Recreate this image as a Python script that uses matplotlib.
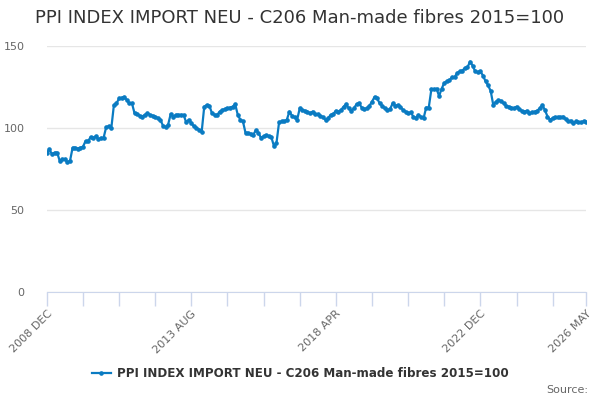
import numpy as np
import pandas as pd
import matplotlib
matplotlib.use("Agg")
import matplotlib.pyplot as plt

# monthly index values, 2008 DEC .. 2026 MAY
months = pd.date_range("2008-12-01", "2026-05-01", freq="MS")
labels = [d.strftime("%Y %b").upper() for d in months]

values = [
    85, 87, 84, 85, 85, 80, 81, 81, 79, 80,
    88, 88, 87.5, 88, 88.5, 92, 92, 94.5, 94, 95,
    93, 94, 94, 100.5, 101, 100, 114, 115, 118, 118.5,
    119, 117, 115, 115, 109, 108.5, 107.5, 107, 108, 109,
    108, 107.5, 107, 106, 105, 101.5, 100.5, 102, 108.5, 107,
    108, 108, 108, 108, 103.5, 105, 103, 101, 100, 99,
    97.5, 113, 114, 113.5, 109, 108, 108, 110, 111, 111.5,
    112, 112.5, 113, 114.5, 108, 105, 104, 97, 97, 96.5,
    96, 98.5, 97, 94, 95, 95.5, 95, 94.5, 89, 91,
    103.5, 104, 104, 105, 110, 107.5, 106.5, 105, 112, 111,
    110.5, 110, 109, 110, 108.5, 108.5, 107.5, 106.5, 105, 106,
    108, 108.5, 110.5, 110, 111, 113, 114.5, 112, 110.5, 112,
    114.5, 115, 112.5, 111.5, 112, 113.5, 116, 119, 118, 115,
    113.5, 112, 111, 111.5, 115, 113.5, 114, 113, 111, 110,
    109, 109.5, 107, 106, 108, 106.5, 106, 112.5, 112.5, 123.5,
    123.5, 124, 119.5, 124, 127.5, 128.5, 129, 131, 131, 133.5,
    134.5, 135, 136.5, 137, 140.5, 138, 134.5, 134, 134.5, 132,
    128.5, 126, 122.5, 114, 116, 117, 116.5, 115, 113.5, 113,
    112.5, 112, 113, 111.5, 110.5, 110, 110.5, 109, 109.5, 110,
    110.5, 112, 114, 111, 107, 105, 106, 106.5, 106.5, 106.5,
    107, 105.5, 104, 104.5, 103, 104, 103.5, 103.5, 104, 103.5,
]

series_name = "PPI INDEX IMPORT NEU - C206 Man-made fibres 2015=100"
line_color = "#0a7bc2"

fig = plt.figure(figsize=(6, 4), dpi=100)
ax = fig.add_axes([0.078, 0.27, 0.899, 0.615])

x = np.arange(len(values))
ax.plot(x, values, color=line_color, lw=1.6, marker="o", ms=2.3,
        mec=line_color, mfc=line_color, zorder=3, label=series_name)

ax.set_xlim(0, len(values) - 1)
ax.set_ylim(0, 150)
ax.set_yticks([0, 50, 100, 150])
ax.yaxis.grid(True, color="#e6e6e6", lw=1)
ax.set_axisbelow(True)

# x ticks every 14 months, labelled every 4th tick plus the last month
tick_pos = list(range(0, len(values), 14)) + [len(values) - 1]
ax.set_xticks(tick_pos)
tick_labels = []
for k, p in enumerate(tick_pos):
    if k % 4 == 0 or p == len(values) - 1:
        tick_labels.append(labels[p])
    else:
        tick_labels.append("")
ax.set_xticklabels(tick_labels, rotation=45, ha="right", rotation_mode="anchor",
                   fontsize=8, color="#666666")
ax.tick_params(axis="x", length=10, color="#ccd6eb", width=1, pad=2)
ax.tick_params(axis="y", length=0, labelsize=8, labelcolor="#666666", pad=16)

for s in ["top", "right", "left"]:
    ax.spines[s].set_visible(False)
ax.spines["bottom"].set_color("#ccd6eb")

fig.text(0.5, 0.955, series_name, ha="center", va="center",
         fontsize=13, color="#333333")

leg = fig.legend(loc="center", bbox_to_anchor=(0.5, 0.066), frameon=False,
                 prop={"size": 8.6, "weight": "bold"}, handlelength=1.6,
                 handletextpad=0.5)
for t in leg.get_texts():
    t.set_color("#333333")

fig.text(0.98, 0.025, "Source:", ha="right", va="center", fontsize=8,
         color="#666666")

fig.savefig("out.png", dpi=100)
